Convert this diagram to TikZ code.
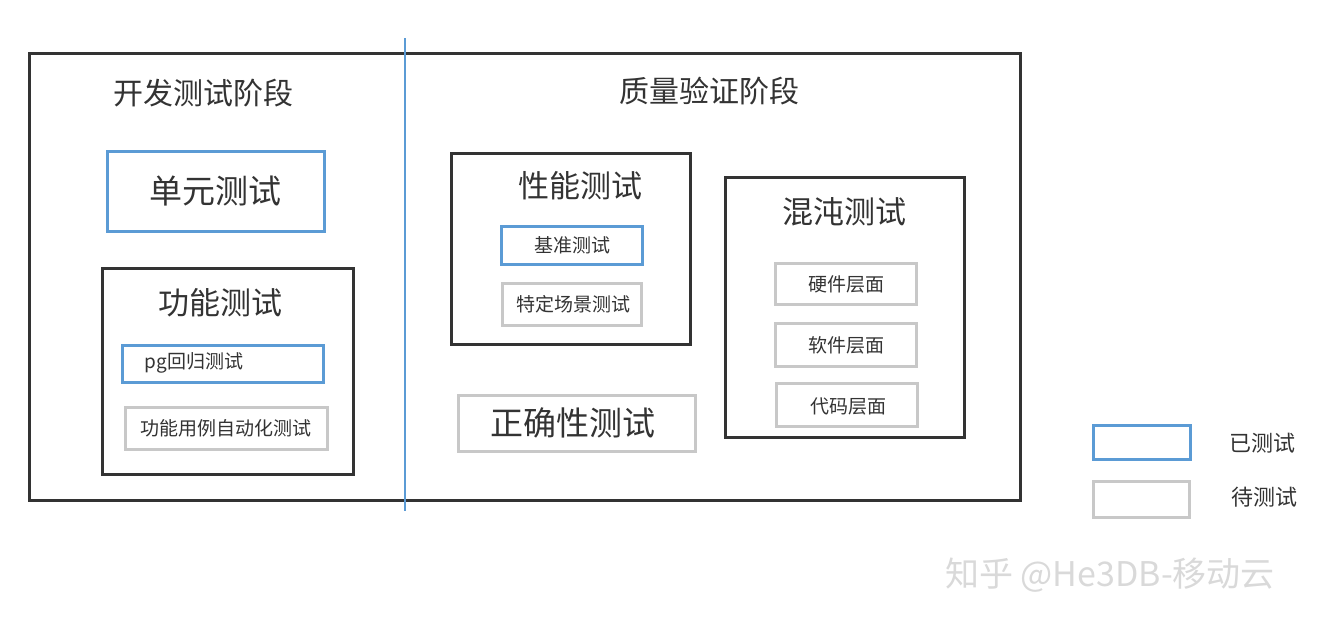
\documentclass[tikz,border=0pt]{standalone}
\usepackage{fontspec}
\setmainfont{Noto Sans CJK SC}
\definecolor{bl}{HTML}{5B9BD5}
\definecolor{dk}{HTML}{333333}
\definecolor{gy}{HTML}{C8C8C8}
\begin{document}
\begin{tikzpicture}[x=1pt,y=-1pt,
  blbox/.style={draw=bl,line width=3},
  dkbox/.style={draw=dk,line width=3},
  gybox/.style={draw=gy,line width=3},
  t/.style={text=dk,inner sep=0},
  fs/.style={font=\fontsize{#1}{#1}\selectfont}]
\useasboundingbox (0,0) rectangle (1340,630);
\draw[dkbox] (29,53) rectangle (1020,500);
\draw[draw=bl,line width=2.5] (405,38) coordinate (va) -- (405,511) coordinate (vb);
\node[t,fs=30] (h1) at (203,93) {开发测试阶段};
\node[t,fs=30] (h2) at (709,91) {质量验证阶段};
\draw[blbox] (107,151) rectangle (324,231); \node[t,fs=33] (u) at (215,191) {单元测试};
\draw[dkbox] (102,268) rectangle (353,474); \node[t,fs=31] (f) at (220,303) {功能测试};
\draw[blbox] (122,345) rectangle (323,382); \node[t,fs=19] (pg) at (194,363) {pg回归测试};
\draw[gybox] (125,407) rectangle (327,449); \node[t,fs=19] (fa) at (226,428) {功能用例自动化测试};
\draw[dkbox] (451,153) rectangle (690,344); \node[t,fs=31] (p) at (580,186) {性能测试};
\draw[blbox] (501,226) rectangle (642,264); \node[t,fs=19] (jz) at (572,245) {基准测试};
\draw[gybox] (502,283) rectangle (641,325); \node[t,fs=19] (td) at (573,304) {特定场景测试};
\draw[gybox] (458,395) rectangle (695,451); \node[t,fs=33] (zq) at (573,423) {正确性测试};
\draw[dkbox] (725,177) rectangle (964,437); \node[t,fs=31] (hd) at (844,212) {混沌测试};
\draw[gybox] (775,263) rectangle (916,304); \node[t,fs=19] (yj) at (846,284) {硬件层面};
\draw[gybox] (775,323) rectangle (916,366); \node[t,fs=19] (rj) at (846,345) {软件层面};
\draw[gybox] (776,383) rectangle (917,426); \node[t,fs=19] (dm) at (848,406) {代码层面};
\draw[blbox] (1093,425) rectangle (1190,459); \node[t,fs=22] (l1) at (1262,443) {已测试};
\draw[gybox] (1093,481) rectangle (1189,517); \node[t,fs=22] (l2) at (1264,497) {待测试};
\node[inner sep=0,text=black!15,fs=34] (wm) at (1110,575) {知乎 @He3DB-移动云};
\end{tikzpicture}
\end{document}
